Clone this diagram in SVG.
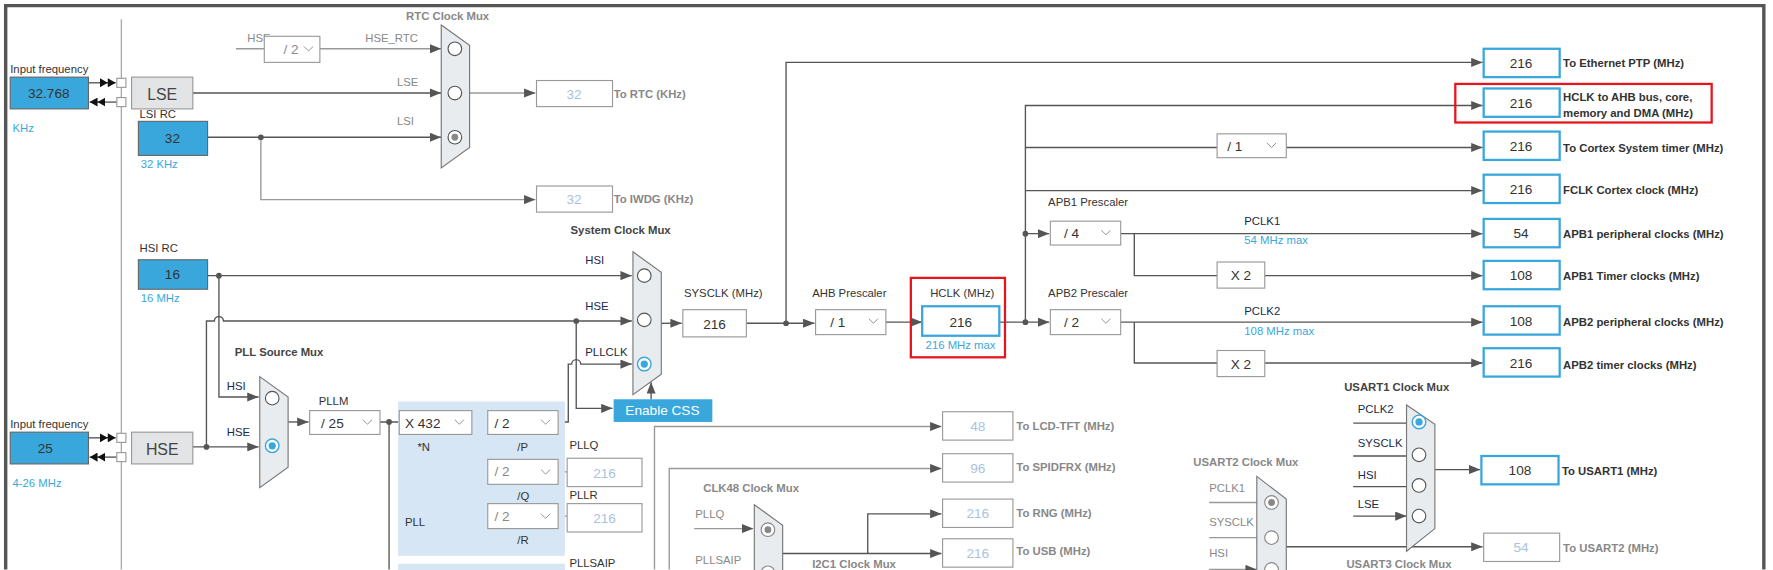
<svg xmlns="http://www.w3.org/2000/svg" width="1773" height="570" viewBox="0 0 1773 570">
<style>
text{font-family:"Liberation Sans",Arial,sans-serif;font-size:10px;fill:#333}
.g{fill:#888}.b{font-weight:bold}.bl{fill:#39a7dc}.dk{fill:#1a2a4a}
.v{font-size:12px;text-anchor:middle}.dv{fill:#a9c3dd}
.ln{stroke:#555;stroke-width:1.2;fill:none}.lg{stroke:#999;stroke-width:1.2;fill:none}
.a{marker-end:url(#ar)}
.blue{fill:#39a7dc;stroke:#666;stroke-width:1}
.gbox{fill:#e2e4e6;stroke:#999}
.box{fill:#fff;stroke:#999;stroke-width:1}
.ob{fill:#fff;stroke:#39a7dc;stroke-width:2}
.mux{fill:#e8ecef;stroke:#777;stroke-width:1}
.c{fill:#fff;stroke:#555;stroke-width:1}
.cs{fill:#fff;stroke:#39a7dc;stroke-width:1.2}
.red{fill:none;stroke:#e8141c;stroke-width:2}
.dot{fill:#555}
.chev{fill:none;stroke:#888;stroke-width:0.8}
</style>
<defs>
<marker id="ar" markerWidth="10" markerHeight="8" refX="10" refY="4" orient="auto" markerUnits="userSpaceOnUse"><path d="M0,0L10,4L0,8z" fill="#555"/></marker>
<marker id="dr" markerWidth="14" markerHeight="8" refX="14" refY="4" orient="auto" markerUnits="userSpaceOnUse"><path d="M0,0L7,4L0,8zM7,0L14,4L7,8z" fill="#111"/></marker>
</defs>
<g transform="scale(1.1343)">
<g id="frame"><path d="M5,502V5H1555V502" fill="none" stroke="#555" stroke-width="3"/><line x1="107" y1="17" x2="107" y2="502" stroke="#aaa" stroke-width="1.2"/></g>
<g id="connectors">
<path class="ln" d="M78,73H102" marker-end="url(#dr)"/><path class="ln" d="M103,90H79" marker-end="url(#dr)"/>
<path class="ln" d="M78,386H102" marker-end="url(#dr)"/><path class="ln" d="M103,403H79" marker-end="url(#dr)"/>
<path class="lg a" d="M208,43H233M282,43H389"/>
<path class="ln a" d="M170,82H389"/>
<path class="ln a" d="M183,121H389"/>
<path class="lg a" d="M230,121V176H472"/>
<path class="lg a" d="M414,82H472"/>
<path class="ln a" d="M183,243H557"/>
<path class="ln a" d="M193,243V350H228"/>
<path class="ln a" d="M170,394H228"/>
<path class="ln a" d="M182,394V283H189A4,4 0 0 1 197,283H557"/>
<path class="ln a" d="M508,283V360H540"/>
<path class="ln a" d="M492,372H501V321H504A4,4 0 0 1 512,321H557"/>
<path class="ln a" d="M574,352V337"/>
<path class="ln a" d="M254,372H272"/>
<path class="ln" d="M335,372H352M343,372V502M416,372H430M424,372V455H430M424,416H430"/>
<path class="lg" d="M492,416H500M492,455H500"/>
<path class="ln a" d="M583,285H601"/>
<path class="ln a" d="M658,285H718"/>
<path class="ln a" d="M693,285V55H1307"/>
<path class="ln a" d="M781,284H813"/>
<path class="ln a" d="M881,284H925"/>
<path class="ln a" d="M904,284V206H925"/>
<path class="ln a" d="M904,206V93H1307"/>
<path class="ln" d="M904,130H1073"/><path class="ln a" d="M1134,130H1307"/>
<path class="ln a" d="M904,168H1307"/>
<path class="ln a" d="M988,206H1307"/>
<path class="ln" d="M1000,206V243H1073"/><path class="ln a" d="M1115,243H1307"/>
<path class="ln a" d="M988,284H1307"/>
<path class="ln" d="M1000,284V320H1073"/><path class="ln a" d="M1115,320H1307"/>
<path class="lg a" d="M577,502V376H830"/>
<path class="lg a" d="M590,502V413H830"/>
<path class="lg a" d="M612,466H664"/>
<path class="ln a" d="M690,488H830"/>
<path class="ln a" d="M765,488V453H830"/>
<path class="lg a" d="M1066,443H1108M1066,474H1108M1066,502H1108"/>
<path class="ln a" d="M1134,482H1307"/>
<path class="ln a" d="M1193,373H1240M1193,402H1240M1193,429H1240M1193,455H1240"/>
<path class="ln a" d="M1265,414H1305"/>
</g>
<g class="dots"><circle class="dot" cx="230" cy="121" r="2.5"/><circle class="dot" cx="193" cy="243" r="2.5"/><circle class="dot" cx="182" cy="394" r="2.5"/><circle class="dot" cx="508" cy="283" r="2.5"/><circle class="dot" cx="343" cy="372" r="2.5"/><circle class="dot" cx="693" cy="285" r="2.5"/><circle class="dot" cx="904" cy="284" r="2.5"/><circle class="dot" cx="904" cy="206" r="2.5"/></g>
<g id="lse-in"><text x="9" y="64">Input frequency</text><rect class="blue" x="9" y="68" width="69" height="28"/><text class="v" x="43" y="86">32.768</text><text class="bl" x="11" y="116">KHz</text>
<rect class="box" x="103" y="69" width="8" height="8"/><rect class="box" x="103" y="86" width="8" height="8"/></g>
<g id="lse"><rect class="gbox" x="116" y="68" width="54" height="28"/><text x="143" y="88" style="font-size:14px;text-anchor:middle;fill:#444">LSE</text></g>
<g id="lsi"><text x="123" y="104">LSI RC</text><rect class="blue" x="122" y="107" width="61" height="30"/><text class="v" x="152" y="126">32</text><text class="bl" x="124" y="148">32 KHz</text></g>
<g id="rtcdiv"><text class="g" x="218" y="37">HSE</text><rect class="box" x="233" y="32" width="49" height="23"/><text class="g" x="250" y="48" style="font-size:12px">/ 2</text><path class="chev" d="M268,41l4,4l4,-4"/><text class="g" x="322" y="37">HSE_RTC</text><text class="g" x="350" y="76">LSE</text><text class="g" x="350" y="110">LSI</text></g>
<g id="rtcmux"><text class="g b" x="358" y="18">RTC Clock Mux</text><path class="mux" d="M389,22L414,40V130L389,148Z"/><circle class="c" cx="401" cy="43" r="6"/><circle class="c" cx="401" cy="82" r="6"/><circle class="c" cx="401" cy="121" r="6"/><circle cx="401" cy="121" r="3" fill="#888"/></g>
<g id="rtc"><rect class="box" x="473" y="71" width="67" height="23"/><text class="v dv" x="506" y="87">32</text><text class="g b" x="541" y="86">To RTC (KHz)</text></g>
<g id="iwdg"><rect class="box" x="473" y="164" width="67" height="23"/><text class="v dv" x="506" y="180">32</text><text class="g b" x="541" y="179">To IWDG (KHz)</text></g>
<g id="hsi"><text x="123" y="222">HSI RC</text><rect class="blue" x="122" y="229" width="61" height="26"/><text class="v" x="152" y="246">16</text><text class="bl" x="124" y="266">16 MHz</text></g>
<g id="hse-in"><text x="9" y="377">Input frequency</text><rect class="blue" x="9" y="381" width="69" height="28"/><text class="v" x="40" y="399">25</text><text class="bl" x="11" y="429">4-26 MHz</text>
<rect class="box" x="103" y="382" width="8" height="8"/><rect class="box" x="103" y="399" width="8" height="8"/></g>
<g id="hse"><rect class="gbox" x="116" y="381" width="54" height="28"/><text x="143" y="401" style="font-size:14px;text-anchor:middle;fill:#444">HSE</text></g>
<g id="sysmux"><text class="b" x="503" y="206" style="fill:#444">System Clock Mux</text><text class="dk" x="516" y="233">HSI</text><text class="dk" x="516" y="273">HSE</text><text class="dk" x="516" y="314">PLLCLK</text>
<path class="mux" d="M558,222L583,240V330L558,348Z"/><circle class="c" cx="568" cy="243" r="6"/><circle class="c" cx="568" cy="282" r="6"/><circle class="cs" cx="568" cy="321" r="6"/><circle cx="568" cy="321" r="3.2" fill="#39a7dc"/></g>
<g id="css"><rect x="541" y="352" width="87" height="20" fill="#39a7dc"/><text x="584" y="366" style="fill:#fff;font-size:12px;text-anchor:middle">Enable CSS</text></g>
<g id="pllsrc"><text class="b" x="207" y="314" style="fill:#444">PLL Source Mux</text><text class="dk" x="200" y="344">HSI</text><text class="dk" x="200" y="384">HSE</text>
<path class="mux" d="M229,332L254,350V412L229,430Z"/><circle class="c" cx="240" cy="351" r="6"/><circle class="cs" cx="240" cy="393" r="6"/><circle cx="240" cy="393" r="3.2" fill="#39a7dc"/></g>
<g id="pllm"><text x="281" y="357">PLLM</text><rect class="box" x="273" y="362" width="62" height="21"/><text x="283" y="377" style="font-size:12px">/ 25</text><path class="chev" d="M320,370l4,4l4,-4"/></g>
<g id="pll"><rect x="351" y="354" width="147" height="136" fill="#d6e6f4"/><rect x="351" y="497" width="147" height="10" fill="#d6e6f4"/>
<rect class="box" x="352" y="362" width="64" height="21"/><text x="357" y="377" style="font-size:12px">X 432</text><path class="chev" d="M401,370l4,4l4,-4"/><text x="368" y="398">*N</text>
<rect class="box" x="430" y="362" width="62" height="21"/><text x="436" y="377" style="font-size:12px">/ 2</text><path class="chev" d="M477,370l4,4l4,-4"/><text x="456" y="398">/P</text>
<rect class="box" x="430" y="405" width="62" height="22"/><text class="g" x="436" y="420" style="font-size:12px">/ 2</text><path class="chev" d="M477,414l4,4l4,-4"/><text x="456" y="441">/Q</text>
<rect class="box" x="430" y="444" width="62" height="22"/><text class="g" x="436" y="459" style="font-size:12px">/ 2</text><path class="chev" d="M477,453l4,4l4,-4"/><text x="456" y="480">/R</text>
<text x="357" y="464">PLL</text></g>
<g id="pllq"><text x="502" y="396">PLLQ</text><rect class="box" x="500" y="404" width="66" height="25"/><text class="v dv" x="533" y="421">216</text></g>
<g id="pllr"><text x="502" y="440">PLLR</text><rect class="box" x="500" y="444" width="66" height="25"/><text class="v dv" x="533" y="461">216</text><text x="502" y="500">PLLSAIP</text></g>
<g id="sysclk"><text x="603" y="262">SYSCLK (MHz)</text><rect class="box" x="602" y="273" width="56" height="24"/><text class="v" x="630" y="290">216</text></g>
<g id="ahb"><text x="716" y="262">AHB Prescaler</text><rect class="box" x="719" y="273" width="62" height="22"/><text x="732" y="288" style="font-size:12px">/ 1</text><path class="chev" d="M766,281l4,4l4,-4"/></g>
<g id="hclk"><rect class="red" x="803" y="245" width="83" height="70"/><text x="820" y="262">HCLK (MHz)</text><rect class="ob" x="813" y="270" width="68" height="26"/><text class="v" x="847" y="288">216</text><text class="bl" x="816" y="308">216 MHz max</text></g>
<g id="apb1"><text x="924" y="182">APB1 Prescaler</text><rect class="box" x="926" y="195" width="62" height="21"/><text x="938" y="210" style="font-size:12px">/ 4</text><path class="chev" d="M971,203l4,4l4,-4"/><text class="dk" x="1097" y="198">PCLK1</text><text class="bl" x="1097" y="215">54 MHz max</text></g>
<g id="apb2"><text x="924" y="262">APB2 Prescaler</text><rect class="box" x="926" y="273" width="62" height="22"/><text x="938" y="288" style="font-size:12px">/ 2</text><path class="chev" d="M971,281l4,4l4,-4"/><text class="dk" x="1097" y="278">PCLK2</text><text class="bl" x="1097" y="295">108 MHz max</text></g>
<g id="cortexdiv"><rect class="box" x="1073" y="118" width="61" height="21"/><text x="1082" y="133" style="font-size:12px">/ 1</text><path class="chev" d="M1117,126l4,4l4,-4"/></g>
<g id="x2a"><rect class="box" x="1073" y="231" width="42" height="23"/><text class="v" x="1094" y="247">X 2</text></g>
<g id="x2b"><rect class="box" x="1073" y="309" width="42" height="23"/><text class="v" x="1094" y="325">X 2</text></g>
<g id="outs">
<rect class="ob" x="1308" y="43" width="67" height="25"/><text class="v" x="1341" y="60">216</text><text class="b" x="1378" y="59">To Ethernet PTP (MHz)</text>
<rect class="red" x="1283" y="74" width="226" height="34"/>
<rect class="ob" x="1308" y="78" width="67" height="25"/><text class="v" x="1341" y="95">216</text><text class="b" x="1378" y="89">HCLK to AHB bus, core,</text><text class="b" x="1378" y="103">memory and DMA (MHz)</text>
<rect class="ob" x="1308" y="116" width="67" height="25"/><text class="v" x="1341" y="133">216</text><text class="b" x="1378" y="134">To Cortex System timer (MHz)</text>
<rect class="ob" x="1308" y="154" width="67" height="25"/><text class="v" x="1341" y="171">216</text><text class="b" x="1378" y="171">FCLK Cortex clock (MHz)</text>
<rect class="ob" x="1308" y="193" width="67" height="25"/><text class="v" x="1341" y="210">54</text><text class="b" x="1378" y="210">APB1 peripheral clocks (MHz)</text>
<rect class="ob" x="1308" y="230" width="67" height="25"/><text class="v" x="1341" y="247">108</text><text class="b" x="1378" y="247">APB1 Timer clocks (MHz)</text>
<rect class="ob" x="1308" y="270" width="67" height="25"/><text class="v" x="1341" y="287">108</text><text class="b" x="1378" y="287">APB2 peripheral clocks (MHz)</text>
<rect class="ob" x="1308" y="307" width="67" height="25"/><text class="v" x="1341" y="324">216</text><text class="b" x="1378" y="325">APB2 timer clocks (MHz)</text>
</g>
<g id="lcd"><rect class="box" x="831" y="363" width="62" height="25"/><text class="v dv" x="862" y="380">48</text><text class="g b" x="896" y="379">To LCD-TFT (MHz)</text></g>
<g id="spdif"><rect class="box" x="831" y="400" width="62" height="25"/><text class="v dv" x="862" y="417">96</text><text class="g b" x="896" y="415">To SPIDFRX (MHz)</text></g>
<g id="clk48"><text class="g b" x="620" y="434">CLK48 Clock Mux</text><text class="g" x="613" y="457">PLLQ</text><text class="g" x="613" y="497">PLLSAIP</text><path class="mux" d="M665,445L690,463V510H665Z"/><circle class="c" cx="677" cy="467" r="6" style="stroke:#888"/><circle cx="677" cy="467" r="3" fill="#888"/><circle class="c" cx="677" cy="505" r="6" style="stroke:#888"/></g>
<g id="rng"><rect class="box" x="831" y="440" width="62" height="25"/><text class="v dv" x="862" y="457">216</text><text class="g b" x="896" y="456">To RNG (MHz)</text></g>
<g id="usb"><rect class="box" x="831" y="475" width="62" height="25"/><text class="v dv" x="862" y="492">216</text><text class="g b" x="896" y="489">To USB (MHz)</text><text class="g b" x="716" y="501">I2C1 Clock Mux</text></g>
<g id="usart2mux"><text class="g b" x="1052" y="411">USART2 Clock Mux</text><text class="g" x="1066" y="434">PCLK1</text><text class="g" x="1066" y="464">SYSCLK</text><text class="g" x="1066" y="491">HSI</text><path class="mux" d="M1108,420L1134,440V510H1108Z"/><circle class="c" cx="1121" cy="443" r="6" style="stroke:#888"/><circle cx="1121" cy="443" r="3" fill="#888"/><circle class="c" cx="1121" cy="474" r="6" style="stroke:#888"/><circle class="c" cx="1121" cy="502" r="6" style="stroke:#888"/></g>
<g id="usart2"><rect class="box" x="1308" y="470" width="67" height="25"/><text class="v dv" x="1341" y="487">54</text><text class="g b" x="1378" y="487">To USART2 (MHz)</text><text class="g b" x="1187" y="501">USART3 Clock Mux</text></g>
<g id="usart1mux"><text class="b" x="1185" y="345" style="fill:#444">USART1 Clock Mux</text><text class="dk" x="1197" y="364">PCLK2</text><text class="dk" x="1197" y="394">SYSCLK</text><text class="dk" x="1197" y="422">HSI</text><text class="dk" x="1197" y="448">LSE</text>
<path class="mux" d="M1240,357L1265,374V466L1240,486Z"/><circle class="cs" cx="1251" cy="372" r="6"/><circle cx="1251" cy="372" r="3.2" fill="#39a7dc"/><circle class="c" cx="1251" cy="401" r="6"/><circle class="c" cx="1251" cy="428" r="6"/><circle class="c" cx="1251" cy="455" r="6"/></g>
<g id="usart1"><rect class="ob" x="1306" y="402" width="68" height="25"/><text class="v" x="1340" y="419">108</text><text class="b" x="1377" y="419">To USART1 (MHz)</text></g>
</g>
</svg>
